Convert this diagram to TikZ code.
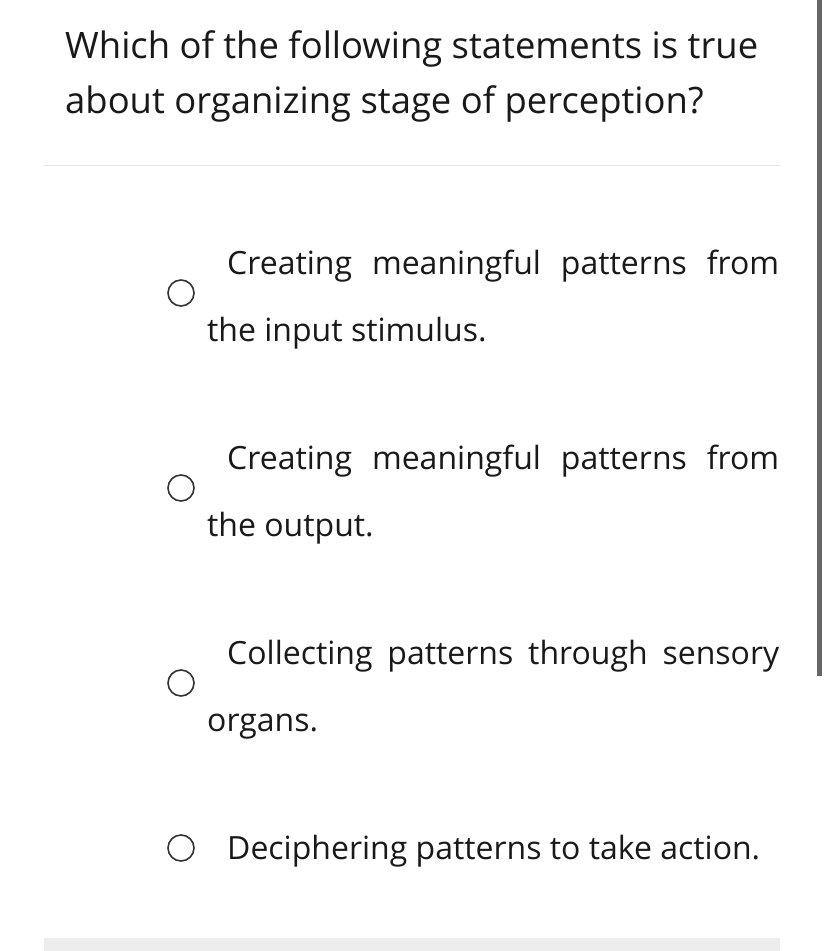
\documentclass[tikz,border=0pt]{standalone}
\usepackage{fontspec}
\setmainfont{Open Sans}
\begin{document}
\begin{tikzpicture}[x=1pt,y=-1pt,
  title/.style={anchor=base west,inner sep=0,font=\fontsize{36.4}{42}\selectfont,text=black!90},
  opt/.style={anchor=base west,inner sep=0,font=\fontsize{32}{38}\selectfont,text=black!90},
  radio/.style={circle,draw=black!80,line width=1.6pt,minimum size=26pt,inner sep=0}]
\fill[white] (0,0) rectangle (828,951);
\node[title] (t1) at (65,58) {Which of the following statements is true};
\node[title] (t2) at (65,113) {about organizing stage of perception?};
\draw[black!10,line width=1pt] (44,165) -- (780,165);
\fill[black!60] (817,0) rectangle (822,676);
\fill[black!7] (44,938) rectangle (780,951);
% option 1
\node[radio] (r1) at (181,293) {};
\node[opt] (a1) at (227,274) {\makebox[552pt][s]{Creating meaningful patterns from}};
\node[opt] (a2) at (207,341) {the input stimulus.};
% option 2
\node[radio] (r2) at (181,488) {};
\node[opt] (b1) at (227,469) {\makebox[552pt][s]{Creating meaningful patterns from}};
\node[opt] (b2) at (207,536) {the output.};
% option 3
\node[radio] (r3) at (181,683) {};
\node[opt] (c1) at (227,664) {\makebox[552pt][s]{Collecting patterns through sensory}};
\node[opt] (c2) at (207,731) {organs.};
% option 4
\node[radio] (r4) at (181,848) {};
\node[opt] (d1) at (227,859) {Deciphering patterns to take action.};
\end{tikzpicture}
\end{document}
